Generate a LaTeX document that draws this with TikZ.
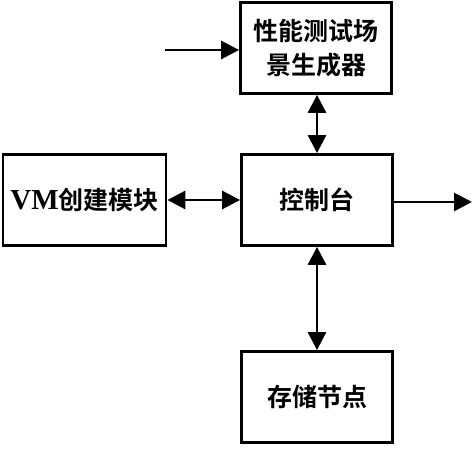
\documentclass[tikz,border=0pt]{standalone}
\usepackage{fontspec}
\setmainfont{Liberation Serif}
\newfontfamily\cjk{Noto Sans CJK SC}[BoldFont={Noto Sans CJK SC Bold}]
\usetikzlibrary{arrows.meta}

\begin{document}
\begin{tikzpicture}[x=1pt, y=1pt, line width=2.8pt,
  >={Triangle[length=18pt, width=18pt]},
  every node/.style = {shape=rectangle, draw, align=center,
    minimum width=151pt, minimum height=91pt, inner sep=0pt,
    font=\fontsize{25}{34}\selectfont\cjk\bfseries}]
  \useasboundingbox (0,0) rectangle (474,449);
  \node (gen) at (316,401) {性能测试场\\景生成器};
  \node (ctrl) at (317,249) {控制台};
  \node (vm) [minimum width=163pt] at (84.5,249)
    {{\fontsize{29}{34}\selectfont\rmfamily\bfseries VM}创建模块};
  \node (store) at (317,52) {存储节点};
  \coordinate (in) at (165,399);
  \coordinate (out) at (472,247);
  % connectors
  \draw[->] (in) -- (in -| gen.west);
  \draw[<->] (gen.south -| 317,0) -- (ctrl.north);
  \draw[<->] (vm.east) -- (ctrl.west);
  \draw[<->] (ctrl.south) -- (store.north);
  \draw[->] (ctrl.east |- out) -- (out);
\end{tikzpicture}
\end{document}
